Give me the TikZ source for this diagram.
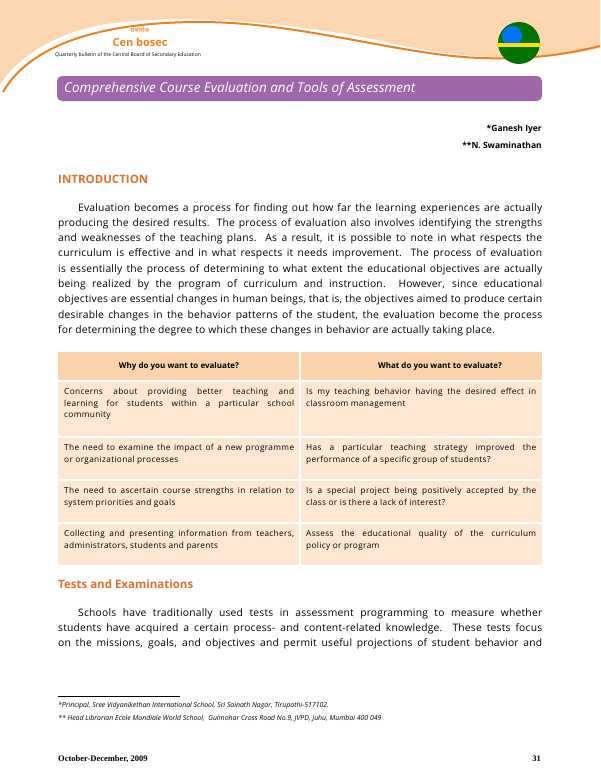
\documentclass[tikz,border=0pt]{standalone}
\usepackage{fontspec}
\setmainfont{Open Sans}
\newfontfamily\bodyf[LetterSpace=2]{Open Sans}
\newfontfamily\cellf[LetterSpace=4]{Open Sans}
\newfontfamily\deva[Script=Devanagari]{Noto Sans}
\newfontfamily\serifb{Liberation Serif}
\definecolor{peach}{HTML}{FBD6B0}
\definecolor{orng}{HTML}{F0801E}
\definecolor{purp}{HTML}{A066AA}
\definecolor{thead}{HTML}{FAD2AC}
\definecolor{tcell}{HTML}{FDE7D2}
\definecolor{headc}{HTML}{E0702A}
\tikzset{
 nohy/.style={execute at begin node={\hyphenpenalty=10000\relax\exhyphenpenalty=10000\relax}},
 body/.style={nohy,anchor=north west,inner sep=0pt,text width=484pt,align=justify,font=\bodyf\fontsize{10.3}{15.3}\selectfont},
 cell/.style={nohy,anchor=north west,inner sep=0pt,text width=230pt,align=justify,font=\cellf\fontsize{8.3}{11.5}\selectfont},
 hcell/.style={inner sep=0pt,font=\bfseries\fontsize{8}{10}\selectfont},
 sect/.style={anchor=west,inner sep=0pt,text=headc,font=\bfseries\fontsize{11.5}{15}\selectfont},
}
\begin{document}
\begin{tikzpicture}[x=1pt,y=-1pt]
\useasboundingbox (0,0) rectangle (600,776);
\fill[white] (0,0) rectangle (600,776);
% header band
\fill[peach] (0,0) -- (600,0) -- (600,48) .. controls (540,62) and (470,60) .. (400,45) .. controls (300,22) and (180,12) .. (100,25) .. controls (50,35) and (15,60) .. (0,85) -- cycle;
\draw[orng,line width=2pt] (3,92) .. controls (30,45) and (100,22) .. (200,22) .. controls (300,22) and (400,55) .. (480,58) .. controls (540,60) and (575,52) .. (600,46);
\node[inner sep=0pt,text=orng] (dv) at (140,30) {\deva\fontsize{6.5}{7}\selectfont सेंबोसेक};
\node[inner sep=0pt,text=orng] (cb) at (140,42) {\bfseries\fontsize{11}{12}\selectfont Cen bosec};
\node[inner sep=0pt,anchor=west] (qb) at (55,55) {\fontsize{5}{6}\selectfont Quarterly bulletin of the Central Board of Secondary Education};
% globe logo
\fill[green!45!black] (519,43) circle (21);
\fill[blue!55!cyan] (512,36) circle (10);
\fill[yellow!80!orange] (497,43) rectangle (541,47);
\node[inner sep=0pt] (g) at (519,43) {};
% title bar
\fill[purp,rounded corners=5pt] (57,76) rectangle (542,101);
\node[anchor=west,inner sep=0pt,text=white] (ttl) at (64,89) {\fontsize{13.5}{16}\selectfont\itshape Comprehensive Course Evaluation and Tools of Assessment};
% authors
\node[anchor=east,inner sep=0pt] (a1) at (542,129) {\bfseries\fontsize{8.5}{10}\selectfont *Ganesh Iyer};
\node[anchor=east,inner sep=0pt] (a2) at (542,145) {\bfseries\fontsize{8.5}{10}\selectfont **N. Swaminathan};
\node[sect] (intro) at (58,179) {INTRODUCTION};
\node[body] (p1) at (58,203) {\hspace*{20pt}Evaluation becomes a process for finding out how far the learning experiences are actually\linebreak producing the desired results. The process of evaluation also involves identifying the strengths\linebreak and weaknesses of the teaching plans.\ \ As a result, it is possible to note in what respects the\linebreak curriculum is effective and in what respects it needs improvement.\ \ The process of evaluation\linebreak is essentially the process of determining to what extent the educational objectives are actually\linebreak being realized by the program of curriculum and instruction.\ \ However, since educational\linebreak objectives are essential changes in human beings, that is, the objectives aimed to produce certain\linebreak desirable changes in the behavior patterns of the student, the evaluation become the process\linebreak for determining the degree to which these changes in behavior are actually taking place.};
% table
\fill[thead] (58,352) rectangle (542,381);
\fill[tcell] (58,381) rectangle (542,565);
\draw[white,line width=1.2pt] (300,352) -- (300,565) (58,381) -- (542,381) (58,437) -- (542,437) (58,480) -- (542,480) (58,523) -- (542,523);
\node[hcell] (h1) at (179,366) {Why do you want to evaluate?};
\node[hcell] (h2) at (440,366) {What do you want to evaluate?};
\node[cell] (c11) at (64,388) {Concerns about providing better teaching and\linebreak learning for students within a particular school\linebreak community};
\node[cell] (c12) at (306,388) {Is my teaching behavior having the desired effect in\linebreak classroom management};
\node[cell] (c21) at (64,444) {The need to examine the impact of a new programme\linebreak or organizational processes};
\node[cell] (c22) at (306,444) {Has a particular teaching strategy improved the\linebreak performance of a specific group of students?};
\node[cell] (c31) at (64,487) {The need to ascertain course strengths in relation to\linebreak system priorities and goals};
\node[cell] (c32) at (306,487) {Is a special project being positively accepted by the\linebreak class or is there a lack of interest?};
\node[cell] (c41) at (64,530) {Collecting and presenting information from teachers,\linebreak administrators, students and parents};
\node[cell] (c42) at (306,530) {Assess the educational quality of the curriculum\linebreak policy or program};
\node[sect] (tests) at (58,584) {Tests and Examinations};
\node[body] (p2) at (58,608) {\hspace*{20pt}Schools have traditionally used tests in assessment programming to measure whether\linebreak students have acquired a certain process- and content-related knowledge. These tests focus\linebreak on the missions, goals, and objectives and permit useful projections of student behavior and\linebreak};
% footnotes
\draw[black,line width=0.5pt] (58,696) -- (180,696);
\node[anchor=west,inner sep=0pt] (f1) at (58,706) {\itshape\fontsize{6.9}{8}\selectfont *Principal, Sree Vidyanikethan International School, Sri Sainath Nagar, Tirupathi-517102.};
\node[anchor=west,inner sep=0pt] (f2) at (58,719) {\itshape\fontsize{6.9}{8}\selectfont ** Head Librarian Ecole Mondiale World School,\ \ Gulmohar Cross Road No.9, JVPD,\ Juhu, Mumbai 400 049};
\node[anchor=west,inner sep=0pt] (dt) at (58,759) {\serifb\bfseries\fontsize{8.5}{9}\selectfont October-December, 2009};
\node[anchor=east,inner sep=0pt] (pg) at (541,759) {\serifb\bfseries\fontsize{8.5}{9}\selectfont 31};
\end{tikzpicture}
\end{document}
